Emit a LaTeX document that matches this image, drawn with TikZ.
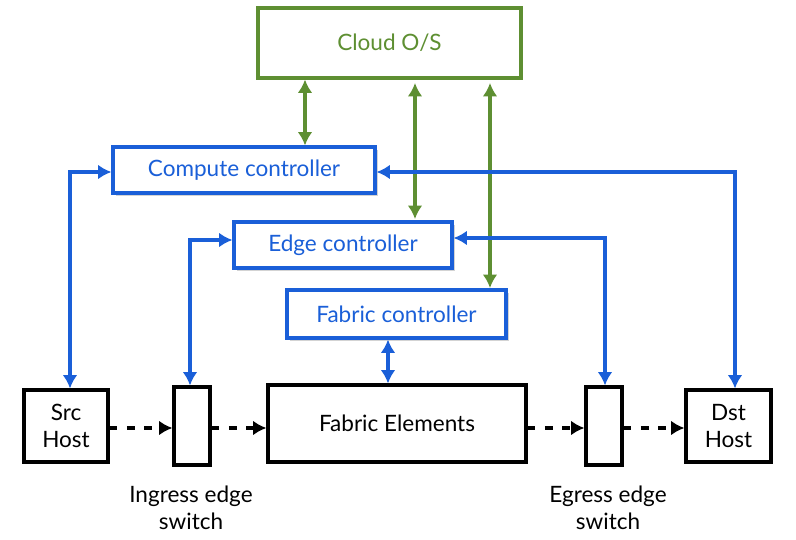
\documentclass[tikz,border=0pt]{standalone}
\usepackage{fontspec}
\setmainfont{Lato}
\usetikzlibrary{shadows,arrows.meta}
\definecolor{cgreen}{HTML}{5E8F32}
\definecolor{cblue}{HTML}{1A5FD8}
\begin{document}
\begin{tikzpicture}[x=0.0265cm,y=-0.0265cm,
  box/.style={draw=black,line width=2.3pt,fill=white,font=\fontsize{17}{20}\selectfont,align=center,inner sep=0},
  ctl/.style={draw=cblue,line width=2.3pt,fill=white,text=cblue,font=\fontsize{17}{20}\selectfont,inner sep=0,drop shadow={opacity=0.35,shadow xshift=2pt,shadow yshift=-2pt}},
  garr/.style={cgreen,line width=3pt,{Latex[length=10pt,width=11pt]}-{Latex[length=10pt,width=11pt]}},
  barr/.style={cblue,line width=3pt,{Latex[length=10pt,width=11pt]}-{Latex[length=10pt,width=11pt]}},
  darr/.style={black,line width=3pt,dash pattern=on 6pt off 7pt,-{Latex[length=10pt,width=11pt]}}]
\useasboundingbox (0,0) rectangle (796,540);
\node[box,draw=cgreen,text=cgreen,minimum width=263*0.0265cm,minimum height=70*0.0265cm] (cloud) at (389.5,43) {Cloud O/S};
\node[ctl,minimum width=262*0.0265cm,minimum height=46*0.0265cm] (comp) at (244,170) {Compute controller};
\node[ctl,minimum width=218*0.0265cm,minimum height=46*0.0265cm] (edge) at (343,245) {Edge controller};
\node[ctl,minimum width=219*0.0265cm,minimum height=48*0.0265cm] (fab) at (396.5,314) {Fabric controller};
\node[box,minimum width=84*0.0265cm,minimum height=72*0.0265cm] (src) at (66,426) {Src\\Host};
\node[box,minimum width=36*0.0265cm,minimum height=78*0.0265cm] (ing) at (192,426) {};
\node[box,minimum width=258*0.0265cm,minimum height=77*0.0265cm] (fe) at (397,423.5) {Fabric Elements};
\node[box,minimum width=36*0.0265cm,minimum height=78*0.0265cm] (egr) at (604,426) {};
\node[box,minimum width=85*0.0265cm,minimum height=72*0.0265cm] (dst) at (728.5,426) {Dst\\Host};
\node[font=\fontsize{17}{20}\selectfont,align=center] (ingl) at (191,508) {Ingress edge\\switch};
\node[font=\fontsize{17}{20}\selectfont,align=center] (egrl) at (608,508) {Egress edge\\switch};
\draw[garr] (cloud.south -| 305,0) -- (comp.north -| 305,0);
\draw[garr] (415,83) -- (415,219);
\draw[garr] (490,83) -- (490,288);
\draw[barr] (comp.west |- 0,172) -- (70,172) -- (src.north -| 70,0);
\draw[barr] (comp.east |- 0,172) -- (735,172) -- (dst.north -| 735,0);
\draw[barr] (edge.west |- 0,240) -- (190,240) -- (ing.north -| 190,0);
\draw[barr] (edge.east |- 0,238) -- (605,238) -- (egr.north -| 605,0);
\draw[barr] (fab.south -| 388,0) -- (fe.north -| 388,0);
\draw[darr] (src.east |- 0,428) -- (ing.west |- 0,428);
\draw[darr] (ing.east |- 0,428) -- (fe.west |- 0,428);
\draw[darr] (fe.east |- 0,428) -- (egr.west |- 0,428);
\draw[darr] (egr.east |- 0,428) -- (dst.west |- 0,428);
\end{tikzpicture}
\end{document}
